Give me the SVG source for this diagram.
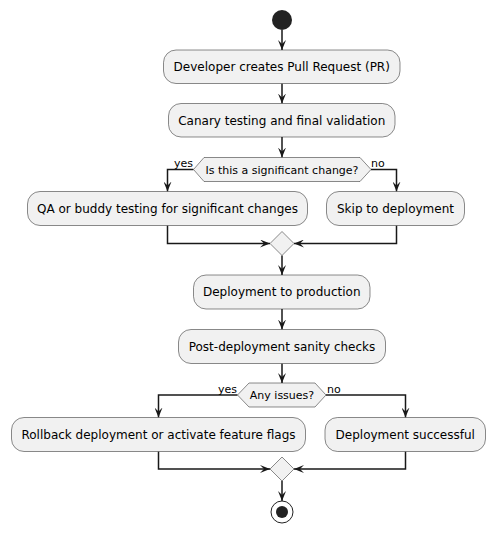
<svg xmlns="http://www.w3.org/2000/svg" width="495" height="533" viewBox="0 0 495 533">
<defs>
<style>
.box{fill:#F1F1F1;stroke:#181818;stroke-width:0.5}
.t{font-family:"DejaVu Sans",sans-serif;font-size:12px;fill:#000;text-anchor:middle}
.dt{font-family:"DejaVu Sans",sans-serif;font-size:11px;fill:#000;text-anchor:middle}
.l{font-family:"DejaVu Sans",sans-serif;font-size:11px;fill:#000}
.c{fill:none;stroke:#181818;stroke-width:1.5}
</style>
<marker id="ah" markerWidth="10" markerHeight="8" refX="10" refY="4" orient="auto" markerUnits="userSpaceOnUse">
<path d="M0,0 L10,4 L0,8 L4,4 Z" fill="#181818"/>
</marker>
</defs>
<rect width="495" height="533" fill="#FFFFFF"/>
<g id="connectors">
<path class="c" marker-end="url(#ah)" d="M282,30 L282,50"/>
<path class="c" marker-end="url(#ah)" d="M282,83.5 L282,103.5"/>
<path class="c" marker-end="url(#ah)" d="M282,137 L282,157.5"/>
<path class="c" marker-end="url(#ah)" d="M193.5,169.5 L167.5,169.5 L167.5,191.5"/>
<path class="c" marker-end="url(#ah)" d="M371,169.5 L396.5,169.5 L396.5,191.5"/>
<path class="c" marker-end="url(#ah)" d="M167.5,225.5 L167.5,243.5 L270,243.5"/>
<path class="c" marker-end="url(#ah)" d="M396.5,225.5 L396.5,243.5 L294,243.5"/>
<path class="c" marker-end="url(#ah)" d="M282,255.5 L282,275"/>
<path class="c" marker-end="url(#ah)" d="M282,309 L282,329.5"/>
<path class="c" marker-end="url(#ah)" d="M282,363.5 L282,383"/>
<path class="c" marker-end="url(#ah)" d="M237.5,395 L158.5,395 L158.5,417.5"/>
<path class="c" marker-end="url(#ah)" d="M326,395 L405.5,395 L405.5,417.5"/>
<path class="c" marker-end="url(#ah)" d="M158.5,451.5 L158.5,469 L270,469"/>
<path class="c" marker-end="url(#ah)" d="M405.5,451.5 L405.5,469 L294,469"/>
<path class="c" marker-end="url(#ah)" d="M282,481 L282,501"/>
<text class="l" x="193" y="167" text-anchor="end">yes</text>
<text class="l" x="371" y="167">no</text>
<text class="l" x="237" y="393" text-anchor="end">yes</text>
<text class="l" x="327" y="393">no</text>
</g>
<g id="start"><circle cx="282" cy="20" r="10" fill="#222222"/></g>
<g id="n1"><rect class="box" x="163.5" y="50" width="236.5" height="33.5" rx="12.5"/><text class="t" x="281.75" y="71">Developer creates Pull Request (PR)</text></g>
<g id="n2"><rect class="box" x="168.5" y="103.5" width="226.5" height="33.5" rx="12.5"/><text class="t" x="281.75" y="124.5">Canary testing and final validation</text></g>
<g id="d1"><polygon class="box" points="193.5,169.5 204,157.5 360,157.5 371,169.5 360,181.5 204,181.5"/><text class="dt" x="282" y="173.5">Is this a significant change?</text></g>
<g id="n3"><rect class="box" x="27.5" y="191.5" width="280" height="34" rx="12.5"/><text class="t" x="167.5" y="212.8">QA or buddy testing for significant changes</text></g>
<g id="n4"><rect class="box" x="326.5" y="191.5" width="138" height="34" rx="12.5"/><text class="t" x="395.5" y="212.8">Skip to deployment</text></g>
<g id="m1"><polygon class="box" points="282,231.5 294,243.5 282,255.5 270,243.5"/></g>
<g id="n5"><rect class="box" x="193.5" y="275" width="176.5" height="34" rx="12.5"/><text class="t" x="281.75" y="296.3">Deployment to production</text></g>
<g id="n6"><rect class="box" x="178.5" y="329.5" width="207" height="34" rx="12.5"/><text class="t" x="282" y="350.8">Post-deployment sanity checks</text></g>
<g id="d2"><polygon class="box" points="237.5,395 249,383 315,383 326,395 315,407 249,407"/><text class="dt" x="282" y="399">Any issues?</text></g>
<g id="n7"><rect class="box" x="11.5" y="417.5" width="294" height="34" rx="12.5"/><text class="t" x="158.5" y="438.8">Rollback deployment or activate feature flags</text></g>
<g id="n8"><rect class="box" x="325" y="417.5" width="160.5" height="34" rx="12.5"/><text class="t" x="405.25" y="438.8">Deployment successful</text></g>
<g id="m2"><polygon class="box" points="282,457 294,469 282,481 270,469"/></g>
<g id="end"><circle cx="282" cy="512" r="11" fill="none" stroke="#222222" stroke-width="1"/><circle cx="282" cy="512" r="6" fill="#222222"/></g>
</svg>
